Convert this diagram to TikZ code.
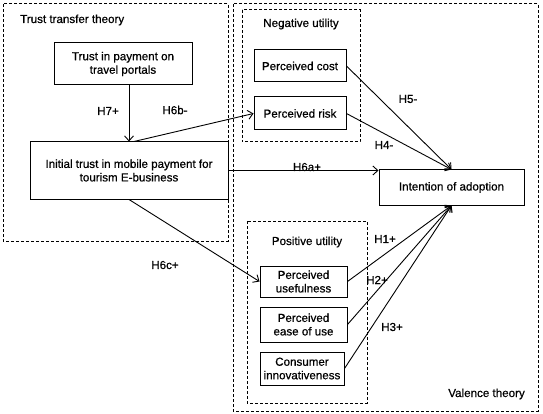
\documentclass[tikz,border=0pt]{standalone}
\usepackage{fontspec}
\setmainfont{Liberation Sans}[FakeBold=0.6]
\usetikzlibrary{arrows.meta,calc}
\begin{document}
\begin{tikzpicture}[x=1pt,y=-1pt,
  font=\fontsize{11.6}{13.5}\selectfont,
  box/.style={draw,line width=1pt,align=center,inner sep=1pt},
  region/.style={draw,line width=1pt,dash pattern=on 3pt off 2pt},
  lbl/.style={inner sep=0pt},
  arr/.style={line width=0.9pt,-{Straight Barb[length=5pt,width=9pt]}}]
\useasboundingbox (0,0) rectangle (543,414);
% regions
\draw[region] (3,4) rectangle (228,241);
\draw[region] (233,4) rectangle (538,411);
\draw[region] (242,10) rectangle (360,142);
\draw[region] (247,221) rectangle (367,403);
\node[lbl,anchor=west] (ttt) at (20,20) {Trust transfer theory};
\node[lbl] (nu) at (301,24) {Negative utility};
\node[lbl] (pul) at (307,242) {Positive utility};
\node[lbl,anchor=east] (vt) at (525,394) {Valence theory};
% boxes
\node[box,minimum width=138pt,minimum height=42pt] (tp) at (123,64) {Trust in payment on\\travel portals};
\node[box,minimum width=198pt,minimum height=57pt] (it) at (129,170.5) {Initial trust in mobile payment for\\tourism E-business};
\node[box,minimum width=92pt,minimum height=32pt] (pc) at (300,66) {Perceived cost};
\node[box,minimum width=92pt,minimum height=33pt] (pr) at (300,113.5) {Perceived risk};
\node[box,minimum width=145pt,minimum height=35pt] (io) at (451.5,187.5) {Intention of adoption};
\node[box,minimum width=87pt,minimum height=31pt] (pu) at (303.5,281.5) {Perceived\\usefulness};
\node[box,minimum width=87pt,minimum height=35pt] (pe) at (303.5,324.5) {Perceived\\ease of use};
\node[box,minimum width=84pt,minimum height=33pt] (ci) at (302,368.5) {Consumer\\innovativeness};
% connectors
\draw[arr] (tp.south -| it.north) -- (it.north);
\draw[arr] ([xshift=5pt]it.north) -- (pr.west);
\draw[arr] (it.east) -- (it.east -| io.west);
\draw[arr] (it.south) -- (pu.west);
\draw[arr] (pc.east) -- (io.north);
\draw[arr] (pr.east) -- (io.north);
\draw[arr] (pu.east) -- (io.south);
\draw[arr] (pe.east) -- (io.south);
\draw[arr] (ci.east) -- (io.south);
% hypothesis labels
\node[lbl] (h7) at (108,111) {H7+};
\node[lbl] (h6b) at (175,110) {H6b-};
\node[lbl] (h5) at (408,99) {H5-};
\node[lbl] (h4) at (384,145) {H4-};
\node[lbl] (h6a) at (307,167) {H6a+};
\node[lbl] (h6c) at (165,265) {H6c+};
\node[lbl] (h1) at (385,239) {H1+};
\node[lbl] (h2) at (377,280) {H2+};
\node[lbl] (h3) at (392,327) {H3+};
\end{tikzpicture}
\end{document}
